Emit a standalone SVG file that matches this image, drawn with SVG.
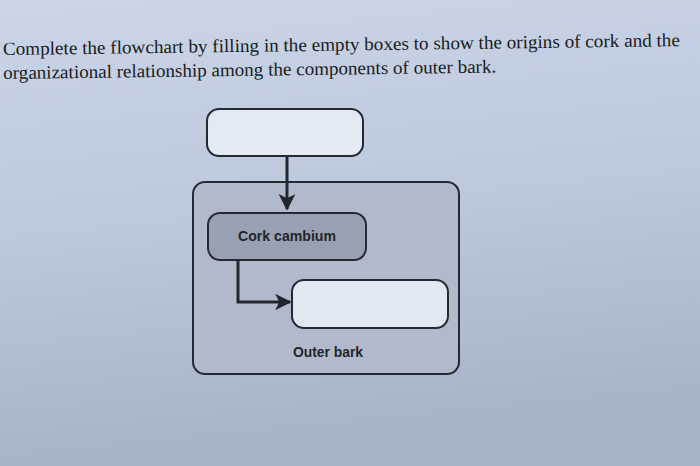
<svg xmlns="http://www.w3.org/2000/svg" width="700" height="466" viewBox="0 0 700 466">
<defs>
<linearGradient id="bg" x1="0" y1="0" x2="0.15" y2="1">
<stop offset="0" stop-color="#cad5e8"/>
<stop offset="0.5" stop-color="#bcc8dc"/>
<stop offset="1" stop-color="#a5b2c8"/>
</linearGradient>
<marker id="ah" viewBox="0 0 10 10" refX="9" refY="5" markerWidth="5.5" markerHeight="5.5" markerUnits="strokeWidth" orient="auto">
<path d="M0,0 L10,5 L0,10 L2.5,5 Z" fill="#23262d"/>
</marker>
<style>
.q{font-family:"Liberation Serif","Times New Roman",serif;font-size:18.5px;fill:#1a1c22}
.lbl{font-family:"Liberation Sans",Arial,sans-serif;font-size:14px;font-weight:bold;fill:#22252c;text-anchor:middle}
.box{stroke:#262931;stroke-width:2}
.conn{fill:none;stroke:#23262d;stroke-width:3}
</style>
</defs>
<rect width="700" height="466" fill="url(#bg)"/>
<g transform="rotate(-0.75 3 55)">
<text class="q" x="3" y="55" textLength="677" lengthAdjust="spacingAndGlyphs">Complete the flowchart by filling in the empty boxes to show the origins of cork and the</text>
<text class="q" x="3" y="79" textLength="493" lengthAdjust="spacingAndGlyphs">organizational relationship among the components of outer bark.</text>
</g>
<g id="outer-bark">
<rect class="box" x="193" y="182" width="266" height="192" rx="12" fill="#b1bacb"/>
<text class="lbl" x="328" y="357" textLength="70" lengthAdjust="spacingAndGlyphs">Outer bark</text>
</g>
<g id="origin-box">
<rect class="box" x="207" y="109" width="156" height="47" rx="12" fill="#e4eaf4"/>
</g>
<g id="cork-cambium">
<rect class="box" x="208" y="213" width="158" height="47" rx="12" fill="#98a1b1"/>
<text class="lbl" x="287" y="241" textLength="98" lengthAdjust="spacingAndGlyphs">Cork cambium</text>
</g>
<g id="cork-box">
<rect class="box" x="292" y="280" width="156" height="48" rx="12" fill="#e2e8f2"/>
</g>
<g id="connectors">
<path class="conn" d="M287,157 V209" marker-end="url(#ah)"/>
<path class="conn" d="M238,261 V302 H290" marker-end="url(#ah)"/>
</g>
</svg>
